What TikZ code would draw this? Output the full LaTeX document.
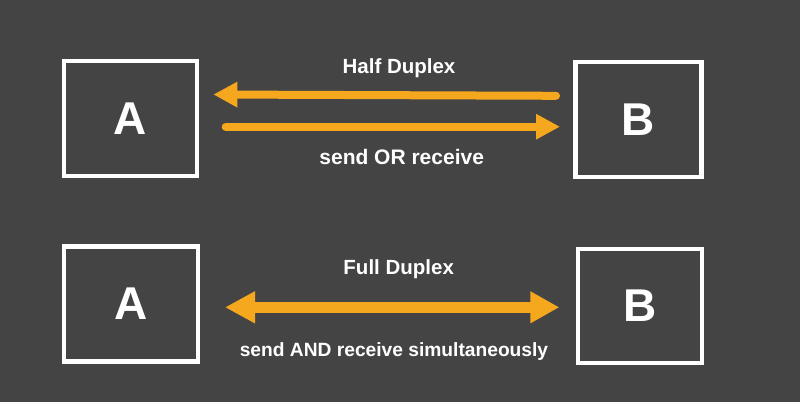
\documentclass[tikz,border=0pt]{standalone}
\usepackage{fontspec}
\setmainfont{Liberation Sans}
\usetikzlibrary{arrows.meta}
\definecolor{bg}{RGB}{68,68,68}
\definecolor{arr}{RGB}{245,167,30}
\tikzset{
  box/.style={draw=white, line width=4.5pt, inner sep=0pt, text=white,
    font=\bfseries\fontsize{46}{50}\selectfont},
  lbl/.style={text=white, anchor=base, inner sep=0pt,
    font=\bfseries\fontsize{20.5}{24}\selectfont},
  harrow/.style={draw=arr, line width=8pt, line cap=round,
    -{Triangle[length=24pt,width=24pt]}},
  farrow/.style={draw=arr, line width=11.5pt,
    {Triangle[length=30pt,width=30pt]}-{Triangle[length=29pt,width=30pt]}}
}
\begin{document}
\begin{tikzpicture}[x=1pt,y=-1pt]
\fill[bg] (0,0) rectangle (800,402);
\useasboundingbox (0,0) rectangle (800,402);
% top row
\node[box, minimum width=133pt, minimum height=115pt] (A1) at (130.5,118.5) {A};
\node[box, minimum width=126pt, minimum height=115pt] (B1) at (638.5,119.5) {B};
% bottom row
\node[box, minimum width=134pt, minimum height=115pt] (A2) at (131,304) {A};
\node[box, minimum width=124pt, minimum height=114pt] (B2) at (640,306) {B};
% labels
\node[lbl] (hd) at (399,73.3) {Half Duplex};
\node[lbl, font=\bfseries\fontsize{21}{25}\selectfont] (sor) at (401.7,164.3) {send OR receive};
\node[lbl] (fd) at (398.7,274) {Full Duplex};
\node[lbl, font=\bfseries\fontsize{19.2}{23}\selectfont] (sand) at (394,356) {send AND receive simultaneously};
% arrow ends
\coordinate (h1s) at (556,95.8);
\coordinate (h1e) at (213.3,94.5);
\coordinate (h2s) at (225.7,126.7);
\coordinate (h2e) at (560,126.7);
\coordinate (f1) at (225,307.3);
\coordinate (f2) at (559.3,307.3);
\draw[harrow] (h1s) -- (h1e);
\draw[harrow] (h2s) -- (h2e);
\draw[farrow] (f1) -- (f2);
\end{tikzpicture}
\end{document}
